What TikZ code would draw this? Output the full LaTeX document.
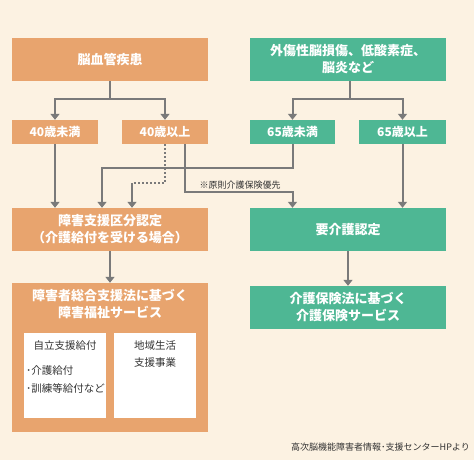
\documentclass[tikz,border=0pt]{standalone}
\usepackage{fontspec}
\setmainfont{Noto Sans CJK JP}
\usepackage{tikz}
\usetikzlibrary{positioning,arrows.meta}
\definecolor{orng}{HTML}{E8A46E}
\definecolor{grn}{HTML}{4EB794}
\definecolor{cream}{HTML}{FCF2E2}
\definecolor{lgray}{HTML}{7A7A7A}
\definecolor{dgray}{HTML}{333333}

\begin{document}
\begin{tikzpicture}[x=1pt,y=-1pt,>={Triangle[width=9pt,length=6pt]},
  box/.style={rectangle,inner sep=0pt,align=center,text=white,font=\bfseries\fontsize{13}{17}\selectfont},
  obox/.style={box,fill=orng},
  gbox/.style={box,fill=grn},
  agebox/.style={minimum height=24pt,font=\bfseries\fontsize{12}{14}\selectfont},
  wbox/.style={rectangle,fill=white,inner sep=0pt,minimum width=82pt,minimum height=85pt},
  wtext/.style={text=dgray,font=\fontsize{10.5}{13}\selectfont,inner sep=0pt},
  link/.style={draw=lgray,line width=2pt},
  hint/.style={link,dotted}]
\fill[cream] (0,0) rectangle (474,460);
\useasboundingbox (0,0) rectangle (474,460);
% causes
\node[obox,minimum width=196pt,minimum height=43pt] (cvd) at (110,59.5) {脳血管疾患};
\node[gbox,minimum width=196pt,minimum height=43pt] (tbi) at (348,59.5) {外傷性脳損傷、低酸素症、\\脳炎など};
% ages
\node[obox,agebox,minimum width=86pt] (u40) at (55,132) {40歳未満};
\node[obox,agebox,minimum width=86pt] (o40) at (165,132) {40歳以上};
\node[gbox,agebox,minimum width=85pt] (u65) at (292.5,132) {65歳未満};
\node[gbox,agebox,minimum width=87pt] (o65) at (402.5,132) {65歳以上};
% certification
\node[obox,minimum width=196pt,minimum height=43pt] (kubun) at (110,229.5) {障害支援区分認定\\（介護給付を受ける場合）};
\node[gbox,minimum width=196pt,minimum height=43pt] (yokaigo) at (348,229.5) {要介護認定};
% services
\node[obox,minimum width=196pt,minimum height=149pt] (fukushi) at (110,357.5) {};
\node[box,below=6pt of fukushi.north] (fukushititle) {障害者総合支援法に基づく\\障害福祉サービス};
\node[gbox,minimum width=196pt,minimum height=43pt] (kaigo) at (348,307.5) {介護保険法に基づく\\介護保険サービス};
\node[wbox] (jiritsu) at (65,375.5) {};
\node[wbox] (chiiki) at (155,375.5) {};
\node[wtext] (jiritsuname) at (65,346) {自立支援給付};
\node[wtext,anchor=west] (kaigokyufu) at (26,371) {･介護給付};
\node[wtext,anchor=west] (kunren) at (26,388) {･訓練等給付など};
\node[wtext,align=center,font=\fontsize{10.5}{17}\selectfont] (chiikiname) at (155,354) {地域生活\\支援事業};
\node[text=dgray,font=\fontsize{9}{11}\selectfont,anchor=east,inner sep=0pt] (source) at (470,447) {高次脳機能障害者情報･支援センターHPより};
% connectors
\coordinate (cvdsplit) at (110,99);
\coordinate (tbisplit) at (350,99);
\draw[link] (cvd) -- (cvdsplit);
\draw[link,->] (cvdsplit) -| (u40);
\draw[link,->] (cvdsplit) -| (o40);
\draw[link] (tbi.south -| tbisplit) -- (tbisplit);
\draw[link,->] (tbisplit) -| (u65);
\draw[link,->] (tbisplit) -| (o65);
\draw[link,->] (u40.south) -- (u40.south |- kubun.north);
\coordinate (u65turn) at (292.5,168);
\coordinate (u65end) at (102,168);
\draw[link,->] (u65.south) -- (u65turn) -- (u65end) -- (u65end |- kubun.north);
\coordinate (o40turn) at (185,192);
\draw[link,->] (o40.south -| o40turn) -- (o40turn) -| (yokaigo.north -| u65turn);
\node[text=dgray,font=\fontsize{9}{11}\selectfont,inner sep=0pt,anchor=south] (priority) at (240,189) {※原則介護保険優先};
\coordinate (o40dot) at (165,183);
\coordinate (dotend) at (132,183);
\draw[hint] (o40.south) -- (o40dot) -- (dotend);
\draw[hint,->,solid] (dotend) -- (dotend |- kubun.north);
\draw[link,->] (o65) -- (o65 |- yokaigo.north);
\draw[link,->] (kubun) -- (fukushi);
\draw[link,->] (yokaigo) -- (kaigo);
\end{tikzpicture}
\end{document}
